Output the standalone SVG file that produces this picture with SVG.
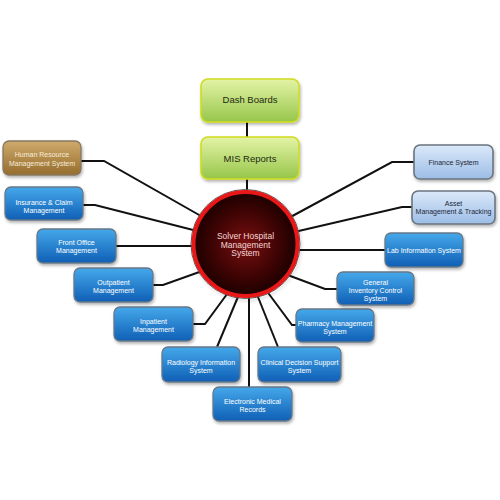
<svg xmlns="http://www.w3.org/2000/svg" width="500" height="500" viewBox="0 0 500 500">
<defs>
<linearGradient id="gBlue" x1="0" y1="0" x2="0" y2="1"><stop offset="0" stop-color="#45a8ea"/><stop offset="1" stop-color="#0f5fb5"/></linearGradient>
<linearGradient id="gLight" x1="0" y1="0" x2="0" y2="1"><stop offset="0" stop-color="#dbe9f9"/><stop offset="1" stop-color="#9cbde6"/></linearGradient>
<linearGradient id="gGreen" x1="0" y1="0" x2="0" y2="1"><stop offset="0" stop-color="#e4f3a6"/><stop offset="1" stop-color="#96c64a"/></linearGradient>
<linearGradient id="gBrown" x1="0" y1="0" x2="0" y2="1"><stop offset="0" stop-color="#cfaa6c"/><stop offset="1" stop-color="#956d2e"/></linearGradient>
<radialGradient id="gCircle" cx="0.5" cy="0.5" r="0.5"><stop offset="0" stop-color="#7a1010"/><stop offset="0.6" stop-color="#420404"/><stop offset="1" stop-color="#1c0000"/></radialGradient>
<filter id="sh" x="-20%" y="-20%" width="140%" height="150%"><feDropShadow dx="1" dy="2" stdDeviation="1.5" flood-color="#000" flood-opacity="0.3"/></filter>
</defs>
<style>
.box{filter:url(#sh);stroke-width:1.3}
.blue{fill:url(#gBlue);stroke:#667888}
.light{fill:url(#gLight);stroke:#6b7480;stroke-width:1.6}
.green{fill:url(#gGreen);stroke:#cfdc1e;stroke-width:1.6}
.brown{fill:url(#gBrown);stroke:#857860}
text{font-family:"Liberation Sans",Arial,sans-serif;text-anchor:middle}
.tw{fill:#ffffff;font-size:7px}
.td{fill:#1b2638;font-size:7px}
.tg{fill:#1e2a12;font-size:9.5px}
.tb{fill:#f6ecd8;font-size:7px}
.tc{fill:#f2d6d6;font-size:8.5px}
.conn path{fill:none;stroke:#111;stroke-width:2}
</style>
<rect width="500" height="500" fill="#ffffff"/>
<g id="connectors" class="conn">
<path d="M247,122 V137"/>
<path d="M247,179 V195"/>
<path d="M81,161 H104 L215,224"/>
<path d="M83,205 H95 L205,233"/>
<path d="M116,246 H205"/>
<path d="M153,285 H163 L205,270"/>
<path d="M193,324 H205 L230,290"/>
<path d="M217,347 L240,292"/>
<path d="M249,387 V290"/>
<path d="M278,347 L256,292"/>
<path d="M296,325 H292 L266,290"/>
<path d="M337,289 H325 L285,274"/>
<path d="M385,250 H290"/>
<path d="M412,207 H402 L290,233"/>
<path d="M414,162 H392 L285,220"/>
</g>
<g id="dashboards"><rect class="box green" x="201" y="79" width="98" height="43" rx="7"/><text class="tg" x="250" y="102.5">Dash Boards</text></g>
<g id="mis"><rect class="box green" x="201" y="137" width="98" height="42" rx="7"/><text class="tg" x="250" y="161.5">MIS Reports</text></g>
<g id="hr"><rect class="box brown" x="3" y="141" width="78" height="34" rx="6"/><text class="tb" x="42" y="156.5">Human Resource</text><text class="tb" x="42" y="165.5">Management System</text></g>
<g id="insurance"><rect class="box blue" x="5" y="187" width="78" height="33" rx="6"/><text class="tw" x="44" y="204.5">Insurance &amp; Claim</text><text class="tw" x="44" y="212.5">Management</text></g>
<g id="frontoffice"><rect class="box blue" x="37" y="229" width="79" height="34" rx="6"/><text class="tw" x="76.5" y="244.5">Front Office</text><text class="tw" x="76.5" y="252.5">Management</text></g>
<g id="outpatient"><rect class="box blue" x="74" y="268" width="79" height="34" rx="6"/><text class="tw" x="113.5" y="284.5">Outpatient</text><text class="tw" x="113.5" y="292.5">Management</text></g>
<g id="inpatient"><rect class="box blue" x="114" y="307" width="79" height="34" rx="6"/><text class="tw" x="153.5" y="323.5">Inpatient</text><text class="tw" x="153.5" y="331.5">Management</text></g>
<g id="radiology"><rect class="box blue" x="162" y="347" width="78" height="35" rx="6"/><text class="tw" x="201" y="364.5">Radiology Information</text><text class="tw" x="201" y="372.5">System</text></g>
<g id="emr"><rect class="box blue" x="213" y="387" width="79" height="34" rx="6"/><text class="tw" x="252.5" y="403.5">Electronic Medical</text><text class="tw" x="252.5" y="411.5">Records</text></g>
<g id="clinical"><rect class="box blue" x="258" y="347" width="83" height="35" rx="6"/><text class="tw" x="299.5" y="364.5">Clinical Decision Support</text><text class="tw" x="299.5" y="372.5">System</text></g>
<g id="pharmacy"><rect class="box blue" x="296" y="309" width="78" height="33" rx="6"/><text class="tw" x="335" y="325.5">Pharmacy Management</text><text class="tw" x="335" y="333.5">System</text></g>
<g id="inventory"><rect class="box blue" x="337" y="272" width="77" height="33" rx="6"/><text class="tw" x="375.5" y="284.5">General</text><text class="tw" x="375.5" y="292.5">Inventory Control</text><text class="tw" x="375.5" y="300.5">System</text></g>
<g id="lab"><rect class="box blue" x="385" y="233" width="78" height="34" rx="6"/><text class="tw" x="424" y="252.5">Lab Information System</text></g>
<g id="asset"><rect class="box light" x="412" y="191" width="83" height="33" rx="6"/><text class="td" x="453.5" y="205.5">Asset</text><text class="td" x="453.5" y="213.5">Management &amp; Tracking</text></g>
<g id="finance"><rect class="box light" x="414" y="145" width="79" height="34" rx="6"/><text class="td" x="453.5" y="164.5">Finance System</text></g>
<g id="center">
<circle cx="245.5" cy="244" r="54.5" fill="none" stroke="#555" stroke-width="1" filter="url(#sh)"/>
<circle cx="245.5" cy="244" r="52" fill="url(#gCircle)" stroke="#e81818" stroke-width="4"/>
<text class="tc" x="245.5" y="239">Solver Hospital</text>
<text class="tc" x="245.5" y="247.5">Management</text>
<text class="tc" x="245.5" y="256">System</text>
</g>
</svg>
